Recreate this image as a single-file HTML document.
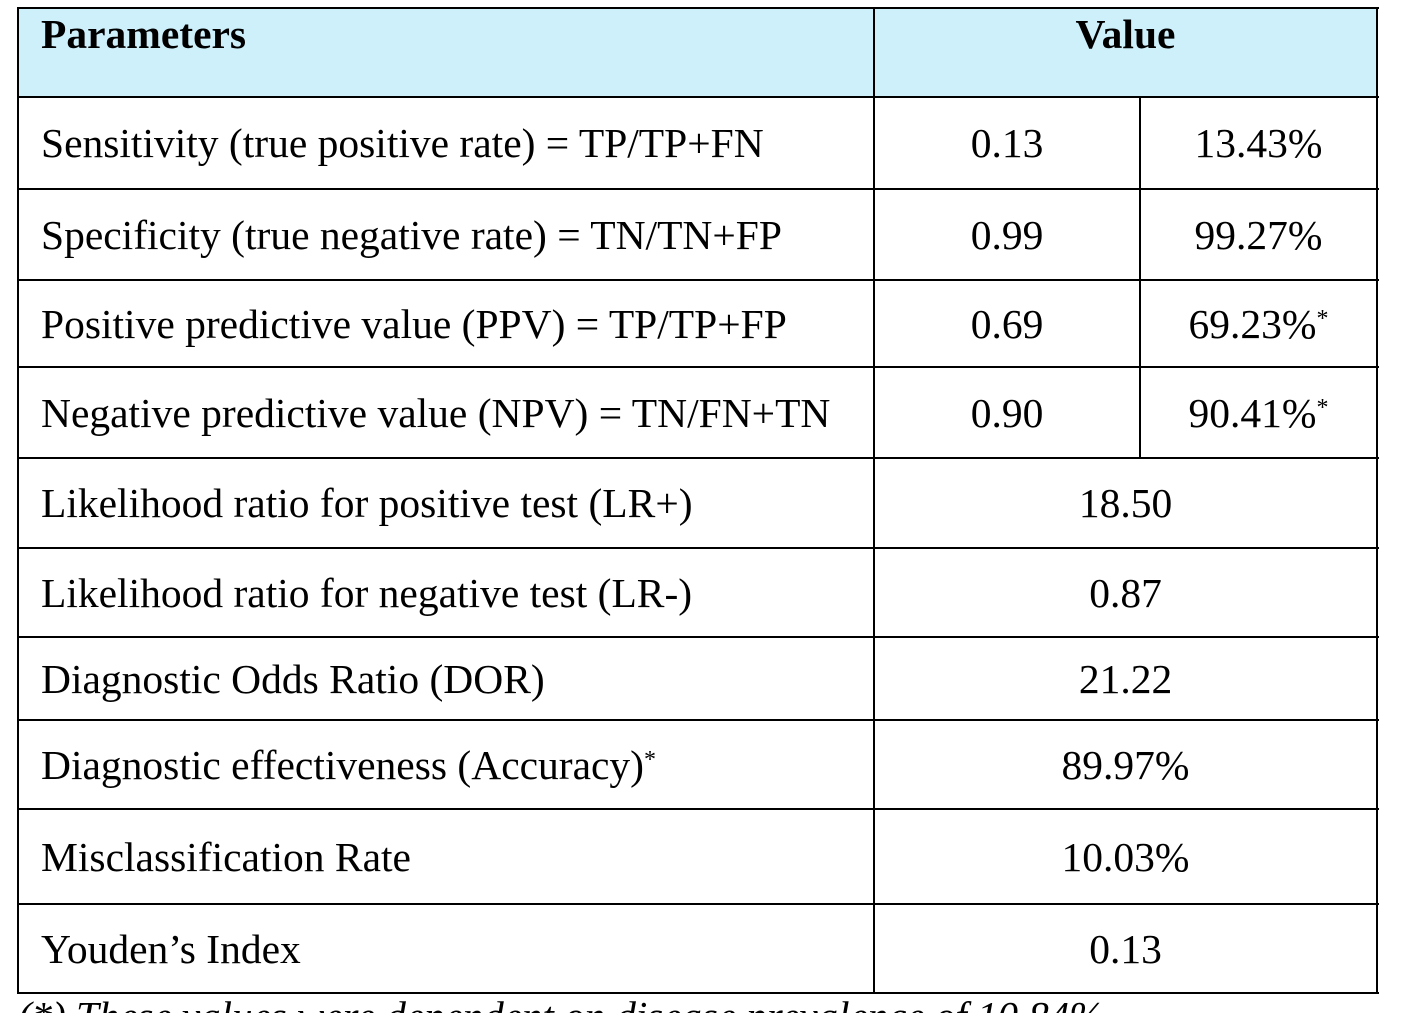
<!DOCTYPE html>
<html><head><meta charset="utf-8"><style>
html,body{margin:0;width:1412px;height:1013px;overflow:hidden}
body{background:#fff;font-family:"Liberation Serif",serif;color:#000;position:relative}
.c{position:absolute;box-sizing:border-box;font-size:41.5px;display:flex;align-items:center;white-space:nowrap}
.l{padding-left:23px}
.m{justify-content:center}
.h{position:absolute;height:2px;background:#000}
.v{position:absolute;width:2px;background:#000}
sup{font-size:24px;position:relative;top:-4px;vertical-align:top}
</style></head><body>
<div style="position:absolute;left:18px;top:8px;width:1359px;height:89px;background:#cdf0fb"></div>
<div id="g"></div>
<div class="c l" style="left:18px;top:8px;height:52px;font-weight:bold;font-size:41.5px">Parameters</div>
<div class="c m" style="left:874px;width:503px;top:8px;height:52px;font-weight:bold;font-size:41.5px">Value</div>
<div id="rows"></div>
<div style="position:absolute;left:18px;top:992px;font-size:41px;font-style:italic;white-space:nowrap">(*) These values were dependent on disease prevalence of 10.84%</div>
<script>
const ys=[8,97,189,280,367,458,548,637,720,809,904,993];
const labels=["Sensitivity (true positive rate) = TP/TP+FN","Specificity (true negative rate) = TN/TN+FP","Positive predictive value (PPV) = TP/TP+FP","Negative predictive value (NPV) = TN/FN+TN","Likelihood ratio for positive test (LR+)","Likelihood ratio for negative test (LR-)","Diagnostic Odds Ratio (DOR)","Diagnostic effectiveness (Accuracy)<sup>*</sup>","Misclassification Rate","Youden’s Index"];
const v1=["0.13","0.99","0.69","0.90"];
const v2=["13.43%","99.27%","69.23%<sup>*</sup>","90.41%<sup>*</sup>"];
const single=["18.50","0.87","21.22","89.97%","10.03%","0.13"];
const g=document.getElementById('g');
ys.forEach(y=>{const d=document.createElement('div');d.className='h';d.style.cssText=`left:18px;width:1361px;top:${y-1}px`;

g.appendChild(d);});
[[18,8,993],[874,8,993],[1377,8,993],[1140,97,458]].forEach(a=>{const d=document.createElement('div');d.className='v';d.style.cssText=`left:${a[0]-1}px;top:${a[1]-1}px;height:${a[2]-a[1]+2}px`;

g.appendChild(d);});
const r=document.getElementById('rows');
labels.forEach((t,i)=>{const y=ys[i+1],h=ys[i+2]-y;
let d=document.createElement('div');d.className='c l';d.style.cssText=`left:18px;top:${y}px;height:${h}px`;d.innerHTML=t;

r.appendChild(d);
if(i<4){d=document.createElement('div');d.className='c m';d.style.cssText=`left:874px;width:266px;top:${y}px;height:${h}px`;d.innerHTML=v1[i];

r.appendChild(d);
d=document.createElement('div');d.className='c m';d.style.cssText=`left:1140px;width:237px;top:${y}px;height:${h}px`;d.innerHTML=v2[i];

r.appendChild(d);}
else{d=document.createElement('div');d.className='c m';d.style.cssText=`left:874px;width:503px;top:${y}px;height:${h}px`;d.innerHTML=single[i-4];

r.appendChild(d);}
});
</script>
</body></html>
